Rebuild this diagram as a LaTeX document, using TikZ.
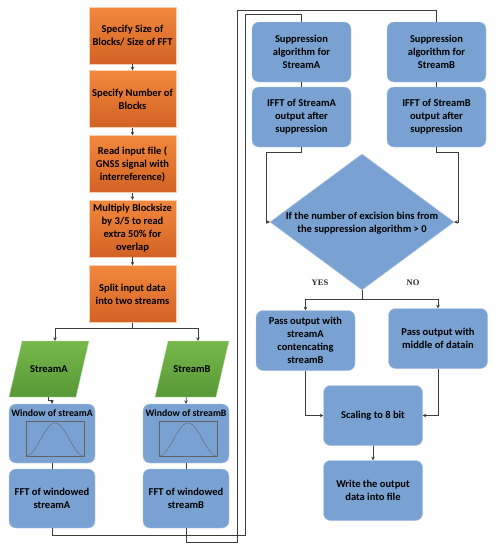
\documentclass[tikz,border=0pt]{standalone}
\usepackage{fontspec}
\setmainfont{Carlito}
\newfontfamily\timesf{Liberation Serif}
\usetikzlibrary{shapes.geometric,arrows.meta}
\definecolor{ortop}{RGB}{242,136,60}
\definecolor{orbot}{RGB}{210,98,36}
\definecolor{bluef}{RGB}{121,162,210}
\definecolor{bluee}{RGB}{170,196,228}
\definecolor{grtop}{RGB}{118,184,76}
\definecolor{grbot}{RGB}{88,152,54}
\definecolor{linec}{RGB}{60,60,60}
\tikzset{
  txt/.style={font=\bfseries\fontsize{10.5}{13}\selectfont, text=black, align=center},
  wtxt/.style={font=\bfseries\fontsize{9.8}{12}\selectfont, text=black, align=center},
  obox/.style={txt, rectangle, top color=ortop, bottom color=orbot, draw=ortop!40!white, line width=0.4pt, minimum width=87pt, minimum height=57pt, inner sep=0pt},
  bbox/.style={txt, rectangle, rounded corners=7pt, fill=bluef, draw=bluee, line width=0.4pt, minimum width=99pt, minimum height=60pt, inner sep=0pt},
  sbox/.style={bbox, minimum width=86pt, minimum height=59pt},
  paraf/.style={top color=grtop, bottom color=grbot, draw=grtop!40!white, line width=0.4pt},
  diab/.style={diamond, fill=bluef, draw=bluee, line width=0.4pt, minimum width=184pt, minimum height=136pt, inner sep=0pt},
  conn/.style={draw=linec, line width=0.6pt},
  arr/.style={conn, -{Stealth[length=3.5pt,width=3.5pt]}},
  lab/.style={font=\timesf\bfseries\fontsize{8.5}{9}\selectfont, text=black!85},
  chart/.style={draw=linec!80, line width=0.4pt}
}
\begin{document}
\begin{tikzpicture}[x=1pt,y=-1pt]
\useasboundingbox (0,0) rectangle (496,550);
% left column
\node[obox] (o1) at (132.5,35.5) {Specify Size of\\Blocks/ Size of FFT};
\node[obox] (o2) at (132.5,99) {Specify Number of\\Blocks};
\node[obox] (o3) at (132.5,164) {Read input file (\\GNSS signal with\\interreference)};
\node[obox] (o4) at (132.5,228.5) {Multiply Blocksize\\by 3/5 to read\\extra 50\% for\\overlap};
\node[obox] (o5) at (132.5,294) {Split input data\\into two streams};
\draw[arr] (o1) -- (o2);
\draw[arr] (o2) -- (o3);
\draw[arr] (o3) -- (o4);
\draw[arr] (o4) -- (o5);
% streams (parallelograms)
\path[paraf] (9,397) -- (76,397) -- (89,341) -- (22,341) -- cycle;
\path[paraf] (155,397) -- (216,397) -- (229,341) -- (168,341) -- cycle;
\node[txt, minimum width=67pt, minimum height=56pt, inner sep=0pt] (sA) at (49,369) {StreamA};
\node[txt, minimum width=61pt, minimum height=56pt, inner sep=0pt] (sB) at (192,369) {StreamB};
\draw[arr] (o5.south) -- ++(0,6) -| ([xshift=6pt]sA.north);
\draw[arr] (o5.south) -- ++(0,6) -| ([xshift=6pt]sB.north);
% window boxes
\node[sbox] (wA) at (52,433.5) {};
\node[sbox] (wB) at (186,433.5) {};
\node[wtxt] (wAt) at (52,413) {Window of streamA};
\node[wtxt] (wBt) at (186,413) {Window of streamB};
\draw[chart] (26,421) rectangle (84,456);
\draw[chart] (159,421) rectangle (217,456);
\draw[chart] plot[domain=0:1,samples=50] ({26+58*\x},{456-33*sin(180*\x)^2});
\draw[chart] plot[domain=0:1,samples=50] ({159+58*\x},{456-33*sin(180*\x)^2});
\draw[arr] ([xshift=-1pt]sA.south) -- ++(0,3) -| (wA.north);
\draw[arr] ([xshift=-6pt]sB.south) -- ++(0,3) -| (wB.north);
% FFT boxes
\node[sbox] (fA) at (52,498.5) {FFT of windowed\\streamA};
\node[sbox] (fB) at (186,498.5) {FFT of windowed\\streamB};
\draw[conn] (wA) -- (fA);
\draw[conn] (wB) -- (fB);
% right column
\node[bbox] (suA) at (301.5,52) {Suppression\\algorithm for\\StreamA};
\node[bbox] (suB) at (436.5,52) {Suppression\\algorithm for\\StreamB};
\node[bbox] (ifA) at (301.5,117) {IFFT of StreamA\\output after\\suppression};
\node[bbox] (ifB) at (436.5,117) {IFFT of StreamB\\output after\\suppression};
\draw[conn] (suA) -- (ifA);
\draw[conn] (suB) -- (ifB);
% long connectors
\coordinate (cA1) at (245,535.5);
\coordinate (cA2) at (245,14);
\coordinate (cB1) at (237,542);
\coordinate (cB2) at (237,10);
\draw[conn] (fA.south) |- (cA1) -- (cA2) -| (suA.north);
\draw[conn] (fB.south) |- (cB1) -- (cB2) -| (suB.north);
% diamond
\node[diab] (dia) at (362,222) {};
\node[txt] (diat) at (362,223) {If the number of excision bins from\\the suppression algorithm > 0};
\coordinate (dL) at (266,222);
\coordinate (dR) at (458,222);
\draw[arr] (ifA.south) -- ++(0,5) -| (dL) -- (dia.west);
\draw[arr] (ifB.south) -- ++(0,5) -| (dR) -- (dia.east);
% pass boxes
\node[bbox] (pA) at (305.5,340.5) {Pass output with\\streamA\\contencating\\streamB};
\node[bbox] (pB) at (438,338.5) {Pass output with\\middle of datain};
\draw[arr] (dia.south) -- ++(0,9) -| (pA.north);
\draw[arr] (dia.south) -- ++(0,9) -| (pB.north);
\node[lab] (yes) at (320,283) {YES};
\node[lab] (no) at (413,283) {NO};
% scaling and write
\node[bbox] (sc) at (373,415.5) {Scaling to 8 bit};
\node[bbox] (wr) at (373,490.5) {Write the output\\data into file};
\draw[arr] (pA.south) |- (sc.west);
\draw[arr] (pB.south) |- (sc.east);
\draw[arr] (sc) -- (wr);
\end{tikzpicture}
\end{document}
